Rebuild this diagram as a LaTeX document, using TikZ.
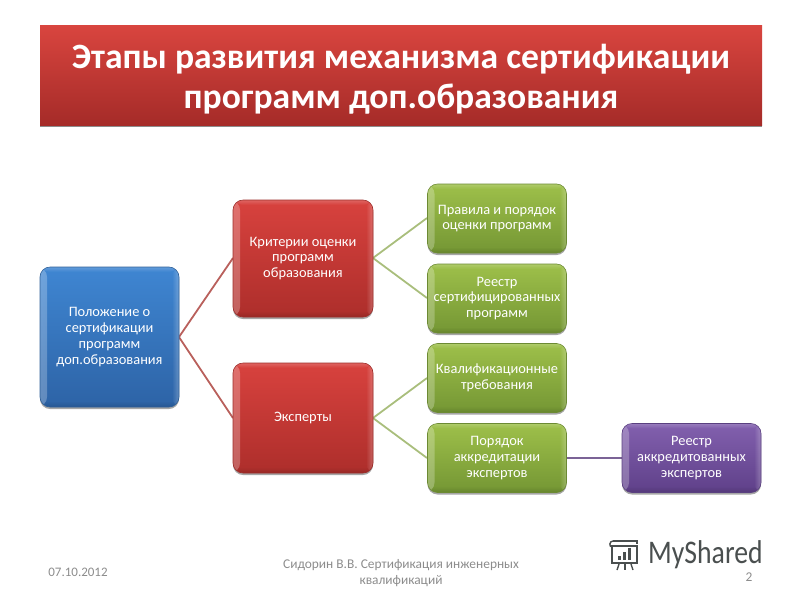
\documentclass[tikz,border=0pt]{standalone}
\usepackage{fontspec}
\setmainfont{Carlito}
\usetikzlibrary{shadows,fadings}
\definecolor{linered}{HTML}{B9605C}
\definecolor{linegreen}{HTML}{A9BE7C}
\definecolor{linepurple}{HTML}{7B6396}
\definecolor{foot}{HTML}{8C8C8C}
\definecolor{logo}{HTML}{4A4F4F}
\definecolor{blueT}{HTML}{3F86D2}
\definecolor{blueB}{HTML}{2D63A6}
\definecolor{blueL}{HTML}{2F6098}
\definecolor{redT}{HTML}{D8423E}
\definecolor{redB}{HTML}{AD2E2B}
\definecolor{redL}{HTML}{9C2D2A}
\definecolor{greenT}{HTML}{9EC04A}
\definecolor{greenB}{HTML}{749634}
\definecolor{greenL}{HTML}{6C8A33}
\definecolor{purpleT}{HTML}{8260AE}
\definecolor{purpleB}{HTML}{5F4089}
\definecolor{purpleL}{HTML}{5A4080}
\definecolor{titleT}{HTML}{D9453F}
\definecolor{titleB}{HTML}{A52B28}
\tikzset{
  glossy/.style n args={3}{
    rounded corners=10pt, draw=#3, line width=.6pt,
    top color=#1, bottom color=#2, text=white,
    align=center, inner sep=1pt, font=\fontsize{14.4}{15.8}\selectfont,
    drop shadow={shadow xshift=0pt,shadow yshift=-2pt,opacity=.35,fill=black},
    path picture={
      \fill[white,opacity=.26,path fading=east]
        (path picture bounding box.north west) rectangle
        ([xshift=7pt]path picture bounding box.south west);
      \fill[white,opacity=.26,path fading=west]
        ([xshift=-7pt]path picture bounding box.north east) rectangle
        (path picture bounding box.south east);
      \fill[white,opacity=.18,path fading=south]
        (path picture bounding box.north west) rectangle
        ([yshift=-5pt]path picture bounding box.north east);
      \fill[black,opacity=.12,path fading=north]
        ([yshift=6pt]path picture bounding box.south west) rectangle
        (path picture bounding box.south east);
    }},
  bluebox/.style={glossy={blueT}{blueB}{blueL}},
  redbox/.style={glossy={redT}{redB}{redL}},
  greenbox/.style={glossy={greenT}{greenB}{greenL}, minimum width=139pt, minimum height=69pt},
  purplebox/.style={glossy={purpleT}{purpleB}{purpleL}, minimum width=139pt, minimum height=69pt},
  titlebox/.style={top color=titleT,bottom color=titleB, text=white, align=center,
    font=\fontsize{35.6}{40}\selectfont\bfseries, minimum width=722pt, minimum height=100pt,
    inner sep=0pt,
    drop shadow={shadow xshift=0pt,shadow yshift=-2pt,opacity=.45,fill=black}},
  link/.style={line width=1.8pt},
  footer/.style={text=foot, font=\fontsize{13.4}{15.7}\selectfont, align=center, inner sep=0pt},
}
\begin{document}
\begin{tikzpicture}[x=1pt,y=-1pt]
\useasboundingbox (0,0) rectangle (800,600);
\coordinate (bE) at (179,337);
\coordinate (r1W) at (233,258);
\coordinate (r2W) at (233,418);
\coordinate (r1E) at (373,258);
\coordinate (r2E) at (373,418);
\coordinate (g1W) at (427,218);
\coordinate (g2W) at (427,298);
\coordinate (g3W) at (427,378);
\coordinate (g4W) at (427,458);
\coordinate (g4E) at (567,458);
\coordinate (pW) at (622,458);
\draw[link,linered] (r1W) -- (bE) -- (r2W);
\draw[link,linegreen] (g1W) -- (r1E) -- (g2W);
\draw[link,linegreen] (g3W) -- (r2E) -- (g4W);
\draw[link,linepurple] (g4E) -- (pW);

\node[titlebox] (title) at (401,75) {\rule{0pt}{32pt}Этапы развития механизма сертификации\\программ доп.образования};

\node[bluebox, minimum width=139pt, minimum height=140pt] (pol) at (109.5,337) {Положение о\\сертификации\\программ\\доп.образования};
\node[redbox, minimum width=140pt, minimum height=117pt] (krit) at (303,258.5) {Критерии оценки\\программ\\образования};
\node[redbox, minimum width=140pt, minimum height=110pt] (eksp) at (303,418) {Эксперты};
\node[greenbox] (prav) at (497,218.5) {Правила и порядок\\оценки программ};
\node[greenbox] (reestr) at (497,298.5) {Реестр\\сертифицированных\\программ};
\node[greenbox] (kval) at (497,378) {Квалификационные\\требования};
\node[greenbox] (por) at (497,458) {Порядок\\аккредитации\\экспертов};
\node[purplebox] (rak) at (691.5,458) {Реестр\\аккредитованных\\экспертов};

\node[footer, font=\fontsize{13}{15.7}\selectfont] (date) at (78,572) {07.10.2012};
\node[footer] (auth) at (401,573) {Сидорин В.В. Сертификация инженерных\\квалификаций};
\node[footer] (num) at (749,577) {2};

\begin{scope}[logo,line width=1.4pt]
  \draw (613,541) -- (637,541) -- (637,544);
  \draw (613,541) .. controls (609,541) and (609,547) .. (612,547);
  \draw (612,545) -- (612,563) -- (637,563) -- (637,546) -- (612,546);
  \fill (618,556) rectangle (621,560);
  \fill (623,552) rectangle (626,560);
  \fill (628,548) rectangle (631,560);
  \draw (619,564) -- (617,570);
  \draw (625,564) -- (625,570);
  \draw (631,564) -- (633,570);
\end{scope}
\node[text=logo, font=\fontsize{33}{33}\selectfont, inner sep=0pt, text depth=0pt, anchor=base west] (brand) at (648,563) {\scalebox{.84}[1]{MyShared}};
\end{tikzpicture}
\end{document}
